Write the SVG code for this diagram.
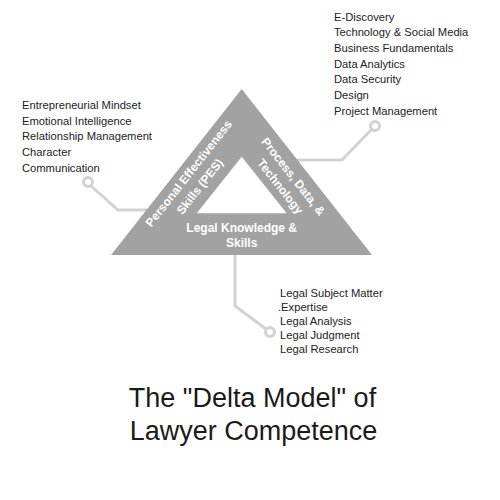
<svg xmlns="http://www.w3.org/2000/svg" width="500" height="500" viewBox="0 0 500 500">
<style>
.lst{font-family:"Liberation Sans",Arial,sans-serif;font-size:11.2px;fill:#222}
.tri{font-family:"Liberation Sans",Arial,sans-serif;font-size:12px;font-weight:bold;fill:#fff;text-anchor:middle}
.ttl{font-family:"Liberation Sans",Arial,sans-serif;font-size:27px;fill:#1a1a1a;text-anchor:middle}
.con{fill:none;stroke:#d2d2d2;stroke-width:3}
</style>
<rect width="500" height="500" fill="#fff"/>
<g id="connectors">
<path class="con" d="M91,186 L118,210 L147,210"/>
<circle class="con" cx="88" cy="182" r="4.5"/>
<path class="con" d="M372,129 L342,160 L297,160"/>
<circle class="con" cx="375" cy="126" r="4.5"/>
<path class="con" d="M235,255 L235,306 L266,329"/>
<circle class="con" cx="270" cy="332" r="4.5"/>
</g>
<g id="delta">
<path d="M241.7,89 L372,255 L111,255 Z M241.7,156.7 L196.7,213.3 L286.7,213.3 Z" fill="#a2a2a2" fill-rule="evenodd"/>
<text class="tri" transform="translate(192,176) rotate(-51.8)">Personal Effectiveness</text>
<text class="tri" transform="translate(203,189) rotate(-51.8)">Skills (PES)</text>
<text class="tri" transform="translate(290,179) rotate(51.8)">Process, Data, &amp;</text>
<text class="tri" transform="translate(277,189) rotate(51.8)">Technology</text>
<text class="tri" x="241.7" y="232" font-size="11.3">Legal Knowledge &amp;</text>
<text class="tri" x="241.7" y="247" font-size="11.3">Skills</text>
</g>
<g id="pes-list">
<text class="lst" x="22" y="109">Entrepreneurial Mindset</text>
<text class="lst" x="22" y="124.7">Emotional Intelligence</text>
<text class="lst" x="22" y="140.3">Relationship Management</text>
<text class="lst" x="22" y="156">Character</text>
<text class="lst" x="22" y="171.7">Communication</text>
</g>
<g id="tech-list">
<text class="lst" x="334" y="20.7">E-Discovery</text>
<text class="lst" x="334" y="36.3">Technology &amp; Social Media</text>
<text class="lst" x="334" y="52">Business Fundamentals</text>
<text class="lst" x="334" y="67.7">Data Analytics</text>
<text class="lst" x="334" y="83.3">Data Security</text>
<text class="lst" x="334" y="99">Design</text>
<text class="lst" x="334" y="114.7">Project Management</text>
</g>
<g id="legal-list">
<text class="lst" x="280" y="297" font-size="10.5">Legal Subject Matter</text>
<text class="lst" x="278" y="311" font-size="10.5">.Expertise</text>
<text class="lst" x="280" y="325" font-size="10.5">Legal Analysis</text>
<text class="lst" x="280" y="339" font-size="10.5">Legal Judgment</text>
<text class="lst" x="280" y="353" font-size="10.5">Legal Research</text>
</g>
<g id="title">
<text class="ttl" x="252.5" y="407">The "Delta Model" of</text>
<text class="ttl" x="253.5" y="440">Lawyer Competence</text>
</g>
</svg>
